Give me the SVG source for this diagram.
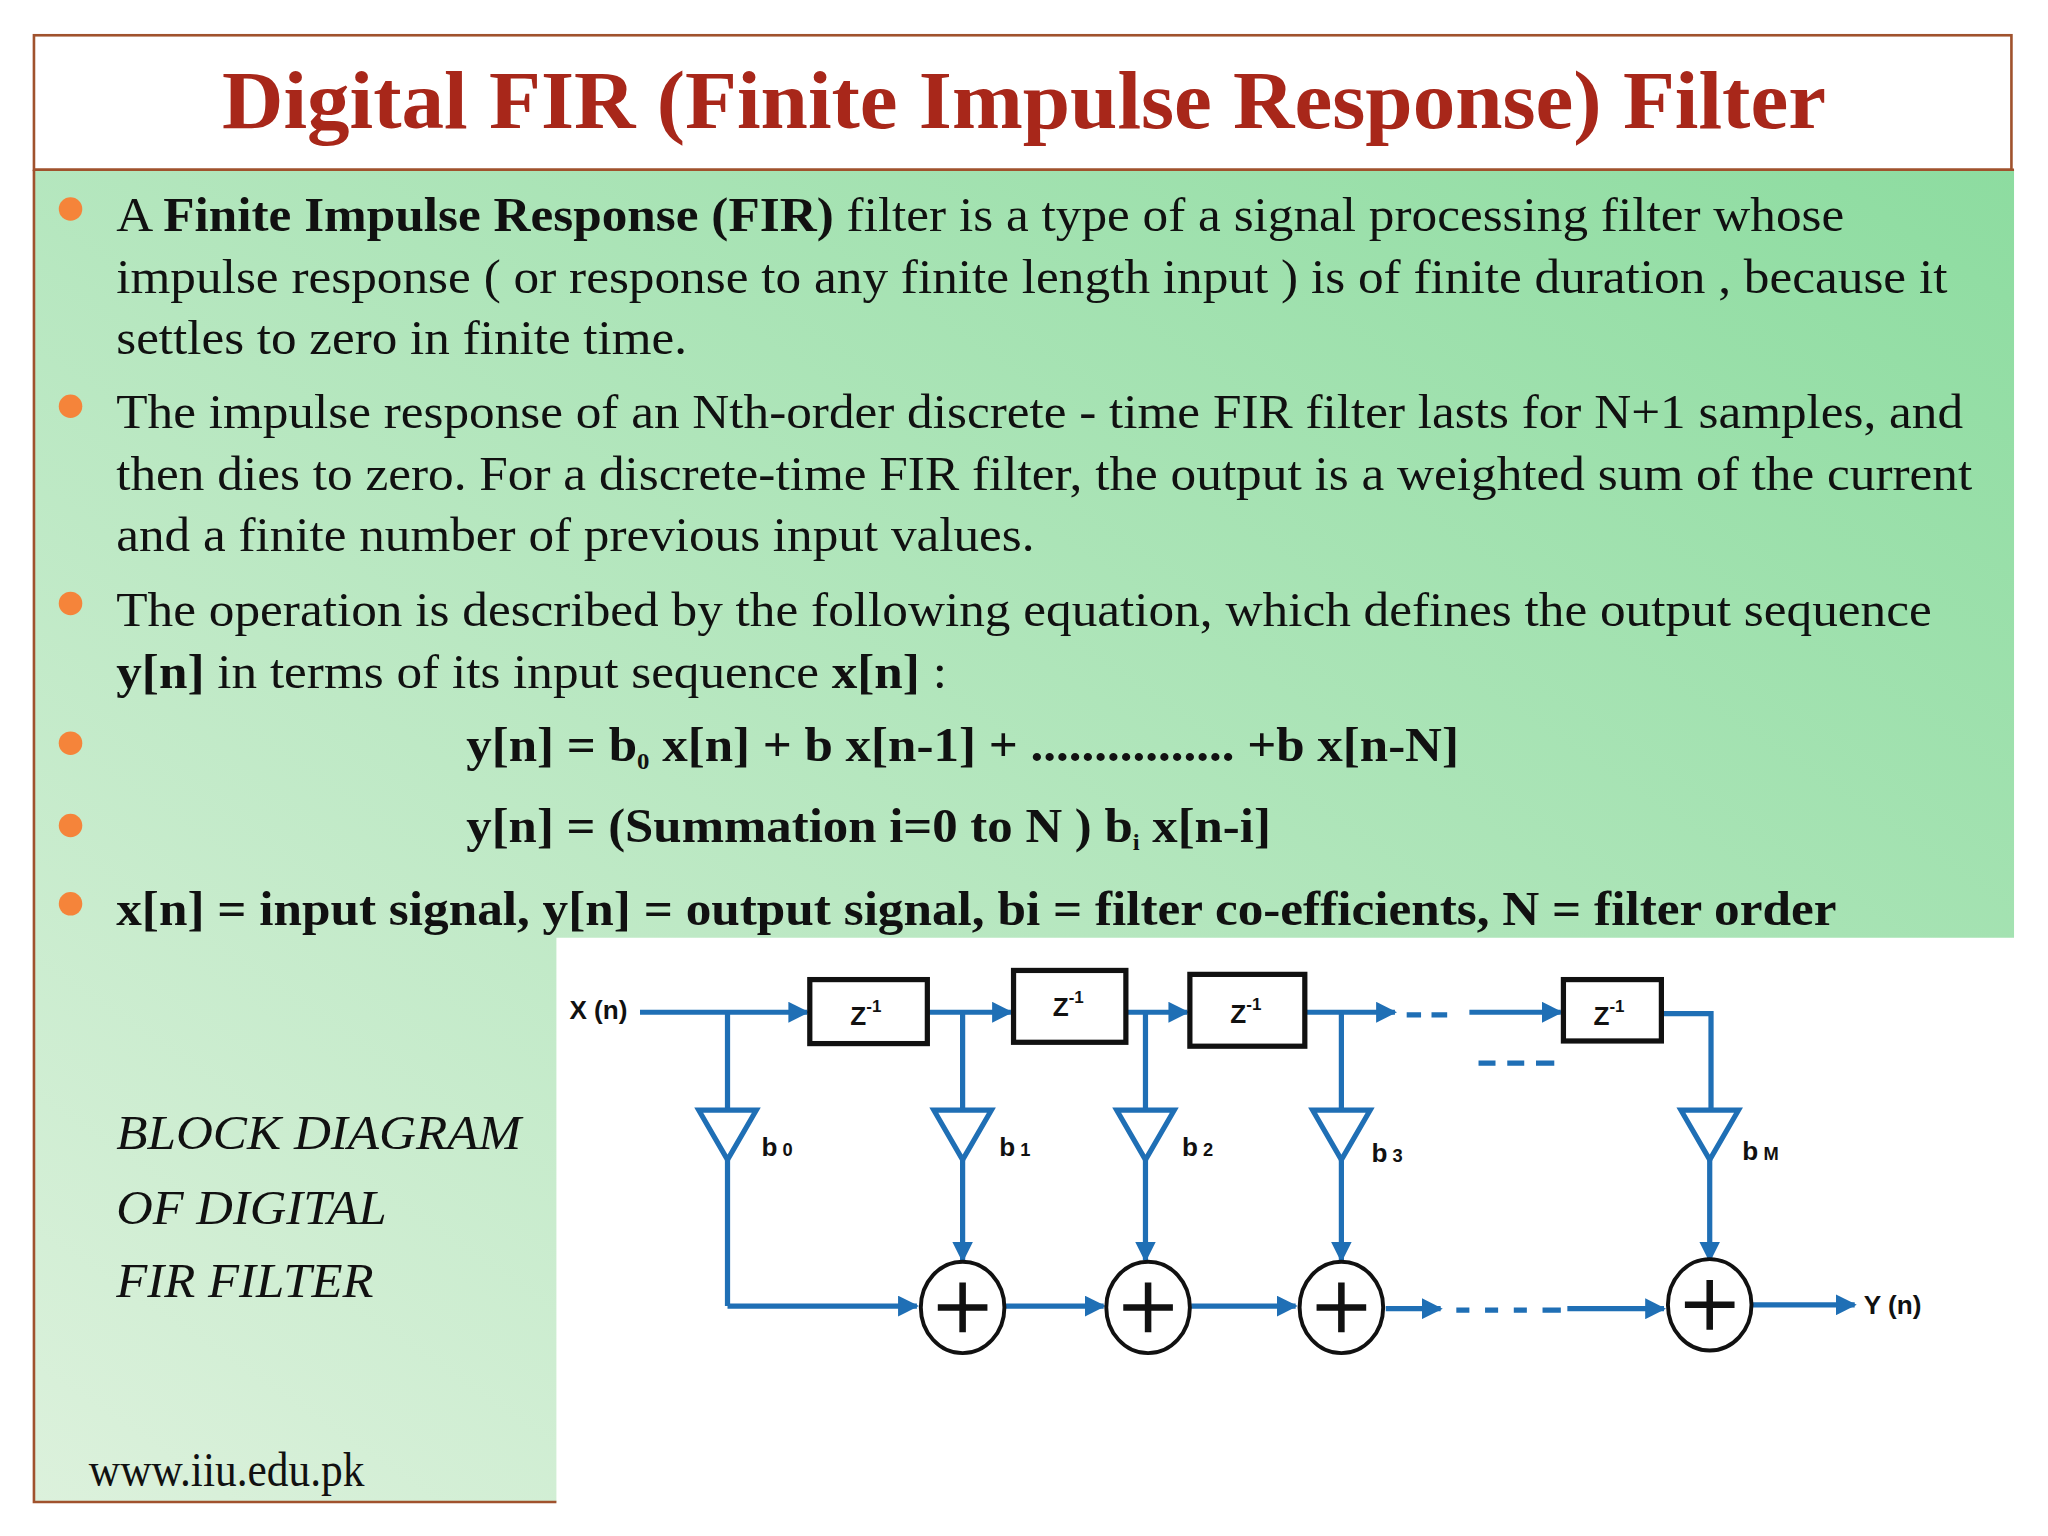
<svg xmlns="http://www.w3.org/2000/svg" width="2048" height="1536" viewBox="0 0 2048 1536">
<defs>
<linearGradient id="g" x1="0" y1="1" x2="1" y2="0">
<stop offset="0" stop-color="#dcf1dc"/><stop offset="1" stop-color="#8ddca0"/>
</linearGradient>
<marker id="a" viewBox="0 0 10 10" refX="9" refY="5" markerWidth="4" markerHeight="4" orient="auto"><path d="M0,0L10,5L0,10z" fill="#1f6fb5"/></marker>
<style>
.t{font-family:"Liberation Serif",serif;font-size:37px;fill:#111}
.b{font-weight:bold}
.w{stroke:#1f6fb5;stroke-width:4;fill:none}
.ar{marker-end:url(#a)}
.bx{fill:#fff;stroke:#111;stroke-width:4}
.tri{fill:#fff;stroke:#1f6fb5;stroke-width:4}
.d{font-family:"Liberation Sans",Arial,sans-serif;font-size:20px;fill:#111;font-weight:bold}
.bul{fill:#f5843a}
</style>
</defs>
<rect width="2048" height="1536" fill="#fff"/>
<g transform="scale(1.30612)">
<g id="title">
<rect x="26" y="27" width="1514" height="103" fill="#fff" stroke="#a0522d" stroke-width="2"/>
<text x="170" y="98" textLength="1228" lengthAdjust="spacingAndGlyphs" font-family="Liberation Serif,serif" font-size="63" font-weight="bold" fill="#a8271a">Digital FIR (Finite Impulse Response) Filter</text>
</g>
<g id="panel">
<path d="M26,130H1542V718H426V1150H26Z" fill="url(#g)"/>
<path d="M26,130V1150H426" fill="none" stroke="#a0522d" stroke-width="2"/>
<line x1="26" y1="130" x2="1542" y2="130" stroke="#a0522d" stroke-width="2"/>
</g>
<g id="bullets">
<circle class="bul" cx="54" cy="160" r="9"/><circle class="bul" cx="54" cy="311" r="9"/><circle class="bul" cx="54" cy="462" r="9"/>
<circle class="bul" cx="54" cy="569" r="9"/><circle class="bul" cx="54" cy="632" r="9"/><circle class="bul" cx="54" cy="692" r="9"/>
<text class="t" x="89" y="177" textLength="1323" lengthAdjust="spacingAndGlyphs">A <tspan class="b">Finite Impulse Response (FIR)</tspan> filter is a type of a signal processing filter whose</text>
<text class="t" x="89" y="224" textLength="1402" lengthAdjust="spacingAndGlyphs">impulse response ( or response to any finite length input ) is of finite duration , because it</text>
<text class="t" x="89" y="271" textLength="437" lengthAdjust="spacingAndGlyphs">settles to zero in finite time.</text>
<text class="t" x="89" y="328" textLength="1414" lengthAdjust="spacingAndGlyphs">The impulse response of an Nth-order discrete - time FIR filter lasts for N+1 samples, and</text>
<text class="t" x="89" y="375" textLength="1421" lengthAdjust="spacingAndGlyphs">then dies to zero. For a discrete-time FIR filter, the output is a weighted sum of the current</text>
<text class="t" x="89" y="422" textLength="703" lengthAdjust="spacingAndGlyphs">and a finite number of previous input values.</text>
<text class="t" x="89" y="479" textLength="1390" lengthAdjust="spacingAndGlyphs">The operation is described by the following equation, which defines the output sequence</text>
<text class="t" x="89" y="527" textLength="636" lengthAdjust="spacingAndGlyphs"><tspan class="b">y[n]</tspan> in terms of its input sequence <tspan class="b">x[n]</tspan> :</text>
<text class="t b" x="357" y="583" textLength="760" lengthAdjust="spacingAndGlyphs">y[n] = b<tspan font-size="18" dy="6">0</tspan><tspan dy="-6"> x[n] + b x[n-1] + ................ +b x[n-N]</tspan></text>
<text class="t b" x="357" y="645" textLength="616" lengthAdjust="spacingAndGlyphs">y[n] = (Summation i=0 to N ) b<tspan font-size="18" dy="6">i</tspan><tspan dy="-6"> x[n-i]</tspan></text>
<text class="t b" x="89" y="708" textLength="1317" lengthAdjust="spacingAndGlyphs">x[n] = input signal, y[n] = output signal, bi = filter co-efficients, N = filter order</text>
<text class="t" x="89" y="880" font-style="italic" textLength="310" lengthAdjust="spacingAndGlyphs">BLOCK DIAGRAM</text>
<text class="t" x="89" y="937" font-style="italic" textLength="207" lengthAdjust="spacingAndGlyphs">OF DIGITAL</text>
<text class="t" x="89" y="993" font-style="italic" textLength="197" lengthAdjust="spacingAndGlyphs">FIR FILTER</text>
<text class="t" x="68" y="1138" font-size="28" textLength="211" lengthAdjust="spacingAndGlyphs">www.iiu.edu.pk</text>
</g>
<g id="connectors">
<path class="w ar" d="M490,775H618"/>
<path class="w ar" d="M710,775H774"/>
<path class="w ar" d="M862,775H909"/>
<path class="w ar" d="M999,775H1068"/>
<path class="w" stroke-width="5" d="M1077,777H1088M1096,777H1108"/>
<path class="w ar" d="M1125,775H1195"/>
<path class="w" d="M1272,776H1310V850"/>
<path class="w" stroke-width="6" d="M1132,814H1145M1154,814H1167M1176,814H1190"/>
<path class="w" d="M557,775V850M557,888V1000"/>
<path class="w ar" d="M557,1000H702"/>
<path class="w" d="M737,775V850"/><path class="w ar" d="M737,888V965"/>
<path class="w" d="M877,775V850"/><path class="w ar" d="M877,888V965"/>
<path class="w" d="M1027,775V850"/><path class="w ar" d="M1027,888V965"/>
<path class="w ar" d="M1309,888V965"/>
<path class="w ar" d="M770,1000H845"/>
<path class="w ar" d="M912,1000H992"/>
<path class="w ar" d="M1061,1002H1103"/>
<path class="w" stroke-width="5" d="M1115,1003H1125M1137,1003H1147M1159,1003H1169M1181,1003H1195"/>
<path class="w ar" d="M1200,1002H1274"/>
<path class="w ar" d="M1342,999H1420"/>
</g>
<g id="delays">
<rect class="bx" x="620" y="750" width="90" height="49"/><text class="d" x="651" y="785">Z<tspan font-size="13" dy="-10">-1</tspan></text>
<rect class="bx" x="776" y="743" width="86" height="55"/><text class="d" x="806" y="778">Z<tspan font-size="13" dy="-10">-1</tspan></text>
<rect class="bx" x="911" y="746" width="88" height="55"/><text class="d" x="942" y="783">Z<tspan font-size="13" dy="-10">-1</tspan></text>
<rect class="bx" x="1197" y="750" width="75" height="47"/><text class="d" x="1220" y="785">Z<tspan font-size="13" dy="-10">-1</tspan></text>
</g>
<g id="gains">
<path class="tri" d="M535,850H579L557,888Z"/><text class="d" x="583" y="885">b<tspan font-size="14"> 0</tspan></text>
<path class="tri" d="M715,850H759L737,888Z"/><text class="d" x="765" y="885">b<tspan font-size="14"> 1</tspan></text>
<path class="tri" d="M855,850H899L877,888Z"/><text class="d" x="905" y="885">b<tspan font-size="14"> 2</tspan></text>
<path class="tri" d="M1005,850H1049L1027,888Z"/><text class="d" x="1050" y="890">b<tspan font-size="14"> 3</tspan></text>
<path class="tri" d="M1287,850H1331L1309,888Z"/><text class="d" x="1334" y="888">b<tspan font-size="14"> M</tspan></text>
</g>
<g id="summers" fill="#fff" stroke="#111" stroke-width="3">
<ellipse cx="737" cy="1001" rx="32" ry="35"/><path d="M737,982V1020M718,1001H756" stroke-width="5"/>
<ellipse cx="879" cy="1001" rx="32" ry="35"/><path d="M879,982V1020M860,1001H898" stroke-width="5"/>
<ellipse cx="1027" cy="1001" rx="32" ry="35"/><path d="M1027,982V1020M1008,1001H1046" stroke-width="5"/>
<ellipse cx="1309" cy="999" rx="32" ry="35"/><path d="M1309,980V1018M1290,999H1328" stroke-width="5"/>
</g>
<text class="d" x="436" y="780">X (n)</text>
<text class="d" x="1427" y="1006">Y (n)</text>
</g>
</svg>
